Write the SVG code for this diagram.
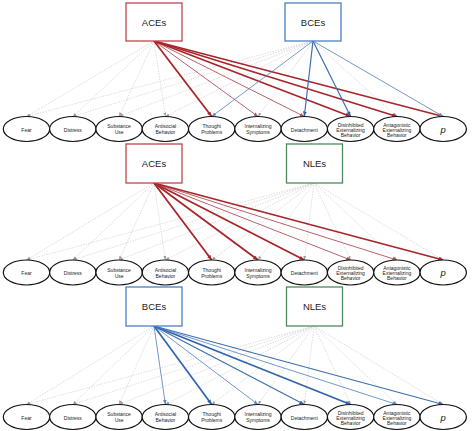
<svg xmlns="http://www.w3.org/2000/svg" width="474" height="431" viewBox="0 0 474 431">
<style>
.bg{fill:#fff}
.box{fill:#fff;stroke-width:1.3}
.red{stroke:#c0444a}.blue{stroke:#4a80c4}.green{stroke:#4e8a5c}
.bt{font-family:"Liberation Sans",Arial,sans-serif;font-size:9.5px;fill:#222;text-anchor:middle}
.el{fill:#fff;stroke:#111;stroke-width:1.2}
.lt{font-family:"Liberation Sans",Arial,sans-serif;font-size:5px;fill:#222;text-anchor:middle}
.pt{font-family:"Liberation Sans",Arial,sans-serif;font-size:9.5px;font-style:italic;fill:#111;text-anchor:middle}
.g{stroke:#cfcfcf;stroke-width:0.7;stroke-dasharray:1.5 1.2;fill:none;marker-end:url(#ag)}
.rk{stroke:#a8262b;stroke-width:1.8;fill:none;marker-end:url(#ar)}
.rn{stroke:#b0505a;stroke-width:0.9;fill:none;marker-end:url(#ar2)}
.bk{stroke:#2f64a8;stroke-width:1.7;fill:none;marker-end:url(#ab)}
.bm{stroke:#3c6fb0;stroke-width:1.2;fill:none;marker-end:url(#ab)}
.bn{stroke:#5a87c0;stroke-width:0.85;fill:none;marker-end:url(#ab2)}
</style>
<defs>
<marker id="ag" markerUnits="userSpaceOnUse" markerWidth="4" markerHeight="3" refX="4" refY="1.5" orient="auto"><path d="M0,0 L4,1.5 L0,3 z" fill="#999"/></marker>
<marker id="ar" markerUnits="userSpaceOnUse" markerWidth="5" markerHeight="4" refX="5" refY="2" orient="auto"><path d="M0,0 L5,2 L0,4 z" fill="#a8262b"/></marker>
<marker id="ar2" markerUnits="userSpaceOnUse" markerWidth="4.5" markerHeight="3.6" refX="4.5" refY="1.8" orient="auto"><path d="M0,0 L4.5,1.8 L0,3.6 z" fill="#b0505a"/></marker>
<marker id="ab" markerUnits="userSpaceOnUse" markerWidth="5" markerHeight="4" refX="5" refY="2" orient="auto"><path d="M0,0 L5,2 L0,4 z" fill="#2f64a8"/></marker>
<marker id="ab2" markerUnits="userSpaceOnUse" markerWidth="4.5" markerHeight="3.6" refX="4.5" refY="1.8" orient="auto"><path d="M0,0 L4.5,1.8 L0,3.6 z" fill="#5a87c0"/></marker>
</defs>
<rect class="bg" x="0" y="0" width="474" height="431"/>
<g id="connectors">
<!-- panel 1 -->
<line class="g" x1="154" y1="41" x2="26.5" y2="116.5"/>
<line class="g" x1="154" y1="41" x2="72.8" y2="116.5"/>
<line class="g" x1="154" y1="41" x2="119.1" y2="116.5"/>
<line class="g" x1="154" y1="41" x2="165.4" y2="116.5"/>
<line class="g" x1="313" y1="41" x2="26.5" y2="116.5"/>
<line class="g" x1="313" y1="41" x2="72.8" y2="116.5"/>
<line class="g" x1="313" y1="41" x2="119.1" y2="116.5"/>
<line class="g" x1="313" y1="41" x2="165.4" y2="116.5"/>
<line class="g" x1="313" y1="41" x2="258" y2="116.5"/>
<line class="g" x1="313" y1="41" x2="396.9" y2="116.5"/>
<line class="rn" x1="154" y1="41" x2="258" y2="116.5"/>
<line class="rn" x1="154" y1="41" x2="304.3" y2="116.5"/>
<line class="rk" x1="154" y1="41" x2="211.7" y2="116.5"/>
<line class="rk" x1="154" y1="41" x2="350.6" y2="116.5"/>
<line class="rk" x1="154" y1="41" x2="396.9" y2="116.5"/>
<line class="rk" x1="154" y1="41" x2="443.2" y2="116.5"/>
<line class="bn" x1="313" y1="41" x2="211.7" y2="116.5"/>
<line class="bn" x1="313" y1="41" x2="443.2" y2="116.5"/>
<line class="bm" x1="313" y1="41" x2="304.3" y2="116.5"/>
<line class="bm" x1="313" y1="41" x2="350.6" y2="116.5"/>
<!-- panel 2 -->
<line class="g" x1="154" y1="183" x2="26.5" y2="260"/>
<line class="g" x1="154" y1="183" x2="72.8" y2="260"/>
<line class="g" x1="154" y1="183" x2="119.1" y2="260"/>
<line class="g" x1="154" y1="183" x2="165.4" y2="260"/>
<line class="g" x1="314" y1="183" x2="26.5" y2="260"/>
<line class="g" x1="314" y1="183" x2="72.8" y2="260"/>
<line class="g" x1="314" y1="183" x2="119.1" y2="260"/>
<line class="g" x1="314" y1="183" x2="165.4" y2="260"/>
<line class="g" x1="314" y1="183" x2="211.7" y2="260"/>
<line class="g" x1="314" y1="183" x2="258" y2="260"/>
<line class="g" x1="314" y1="183" x2="304.3" y2="260"/>
<line class="g" x1="314" y1="183" x2="350.6" y2="260"/>
<line class="g" x1="314" y1="183" x2="396.9" y2="260"/>
<line class="g" x1="314" y1="183" x2="443.2" y2="260"/>
<line class="rk" x1="154" y1="183" x2="211.7" y2="260"/>
<line class="rk" x1="154" y1="183" x2="258" y2="260"/>
<line class="rk" x1="154" y1="183" x2="304.3" y2="260"/>
<line class="rn" x1="154" y1="183" x2="350.6" y2="260"/>
<line class="rn" x1="154" y1="183" x2="396.9" y2="260"/>
<line class="rk" x1="154" y1="183" x2="443.2" y2="260"/>
<!-- panel 3 -->
<line class="g" x1="154" y1="326" x2="26.5" y2="404.5"/>
<line class="g" x1="154" y1="326" x2="72.8" y2="404.5"/>
<line class="g" x1="154" y1="326" x2="119.1" y2="404.5"/>
<line class="g" x1="314" y1="326" x2="26.5" y2="404.5"/>
<line class="g" x1="314" y1="326" x2="72.8" y2="404.5"/>
<line class="g" x1="314" y1="326" x2="119.1" y2="404.5"/>
<line class="g" x1="314" y1="326" x2="165.4" y2="404.5"/>
<line class="g" x1="314" y1="326" x2="211.7" y2="404.5"/>
<line class="g" x1="314" y1="326" x2="258" y2="404.5"/>
<line class="g" x1="314" y1="326" x2="304.3" y2="404.5"/>
<line class="g" x1="314" y1="326" x2="350.6" y2="404.5"/>
<line class="g" x1="314" y1="326" x2="396.9" y2="404.5"/>
<line class="g" x1="314" y1="326" x2="443.2" y2="404.5"/>
<line class="bn" x1="154" y1="326" x2="165.4" y2="404.5"/>
<line class="bk" x1="154" y1="326" x2="211.7" y2="404.5"/>
<line class="bn" x1="154" y1="326" x2="258" y2="404.5"/>
<line class="bm" x1="154" y1="326" x2="304.3" y2="404.5"/>
<line class="bk" x1="154" y1="326" x2="350.6" y2="404.5"/>
<line class="bn" x1="154" y1="326" x2="396.9" y2="404.5"/>
<line class="bm" x1="154" y1="326" x2="443.2" y2="404.5"/>
</g>
<!-- boxes -->
<g id="p1-aces"><rect class="box red" x="126" y="3" width="56" height="38"/><text class="bt" x="154" y="25.5">ACEs</text></g>
<g id="p1-bces"><rect class="box blue" x="285" y="3" width="56" height="38"/><text class="bt" x="313" y="25.5">BCEs</text></g>
<g id="p2-aces"><rect class="box red" x="126" y="144" width="56" height="39"/><text class="bt" x="154" y="166.5">ACEs</text></g>
<g id="p2-nles"><rect class="box green" x="286.5" y="144" width="56" height="39"/><text class="bt" x="314.5" y="166.5">NLEs</text></g>
<g id="p3-bces"><rect class="box blue" x="126" y="287" width="56" height="39"/><text class="bt" x="154" y="309.5">BCEs</text></g>
<g id="p3-nles"><rect class="box green" x="286.5" y="287" width="56" height="39"/><text class="bt" x="314.5" y="309.5">NLEs</text></g>
<!-- row 1 -->
<g id="p1-fear"><ellipse class="el" cx="26.5" cy="129" rx="23.2" ry="12.5"/><text class="lt" x="26.5" y="131.8">Fear</text></g>
<g id="p1-distress"><ellipse class="el" cx="72.8" cy="129" rx="23.2" ry="12.5"/><text class="lt" x="72.8" y="131.8">Distress</text></g>
<g id="p1-substance"><ellipse class="el" cx="119.1" cy="129" rx="23.2" ry="12.5"/><text class="lt" x="119.1" y="128">Substance</text><text class="lt" x="119.1" y="134">Use</text></g>
<g id="p1-antisocial"><ellipse class="el" cx="165.4" cy="129" rx="23.2" ry="12.5"/><text class="lt" x="165.4" y="128">Antisocial</text><text class="lt" x="165.4" y="134">Behavior</text></g>
<g id="p1-thought"><ellipse class="el" cx="211.7" cy="129" rx="23.2" ry="12.5"/><text class="lt" x="211.7" y="128">Thought</text><text class="lt" x="211.7" y="134">Problems</text></g>
<g id="p1-internalizing"><ellipse class="el" cx="258" cy="129" rx="23.2" ry="12.5"/><text class="lt" x="258" y="128">Internalizing</text><text class="lt" x="258" y="134">Symptoms</text></g>
<g id="p1-detachment"><ellipse class="el" cx="304.3" cy="129" rx="23.2" ry="12.5"/><text class="lt" x="304.3" y="131.8">Detachment</text></g>
<g id="p1-disinhibited"><ellipse class="el" cx="350.6" cy="129" rx="23.2" ry="12.5"/><text class="lt" x="350.6" y="126.6">Disinhibited</text><text class="lt" x="350.6" y="131.6">Externalizing</text><text class="lt" x="350.6" y="136.6">Behavior</text></g>
<g id="p1-antagonistic"><ellipse class="el" cx="396.9" cy="129" rx="23.2" ry="12.5"/><text class="lt" x="396.9" y="126.6">Antagonistic</text><text class="lt" x="396.9" y="131.6">Externalizing</text><text class="lt" x="396.9" y="136.6">Behavior</text></g>
<g id="p1-p"><ellipse class="el" cx="443.2" cy="129" rx="23.2" ry="12.5"/><text class="pt" x="443.2" y="132.5">p</text></g>
<!-- row 2 -->
<g id="p2-fear"><ellipse class="el" cx="26.5" cy="272.5" rx="23.2" ry="12.5"/><text class="lt" x="26.5" y="275.3">Fear</text></g>
<g id="p2-distress"><ellipse class="el" cx="72.8" cy="272.5" rx="23.2" ry="12.5"/><text class="lt" x="72.8" y="275.3">Distress</text></g>
<g id="p2-substance"><ellipse class="el" cx="119.1" cy="272.5" rx="23.2" ry="12.5"/><text class="lt" x="119.1" y="271.5">Substance</text><text class="lt" x="119.1" y="277.5">Use</text></g>
<g id="p2-antisocial"><ellipse class="el" cx="165.4" cy="272.5" rx="23.2" ry="12.5"/><text class="lt" x="165.4" y="271.5">Antisocial</text><text class="lt" x="165.4" y="277.5">Behavior</text></g>
<g id="p2-thought"><ellipse class="el" cx="211.7" cy="272.5" rx="23.2" ry="12.5"/><text class="lt" x="211.7" y="271.5">Thought</text><text class="lt" x="211.7" y="277.5">Problems</text></g>
<g id="p2-internalizing"><ellipse class="el" cx="258" cy="272.5" rx="23.2" ry="12.5"/><text class="lt" x="258" y="271.5">Internalizing</text><text class="lt" x="258" y="277.5">Symptoms</text></g>
<g id="p2-detachment"><ellipse class="el" cx="304.3" cy="272.5" rx="23.2" ry="12.5"/><text class="lt" x="304.3" y="275.3">Detachment</text></g>
<g id="p2-disinhibited"><ellipse class="el" cx="350.6" cy="272.5" rx="23.2" ry="12.5"/><text class="lt" x="350.6" y="270.1">Disinhibited</text><text class="lt" x="350.6" y="275.1">Externalizing</text><text class="lt" x="350.6" y="280.1">Behavior</text></g>
<g id="p2-antagonistic"><ellipse class="el" cx="396.9" cy="272.5" rx="23.2" ry="12.5"/><text class="lt" x="396.9" y="270.1">Antagonistic</text><text class="lt" x="396.9" y="275.1">Externalizing</text><text class="lt" x="396.9" y="280.1">Behavior</text></g>
<g id="p2-p"><ellipse class="el" cx="443.2" cy="272.5" rx="23.2" ry="12.5"/><text class="pt" x="443.2" y="276">p</text></g>
<!-- row 3 -->
<g id="p3-fear"><ellipse class="el" cx="26.5" cy="417" rx="23.2" ry="12.5"/><text class="lt" x="26.5" y="419.8">Fear</text></g>
<g id="p3-distress"><ellipse class="el" cx="72.8" cy="417" rx="23.2" ry="12.5"/><text class="lt" x="72.8" y="419.8">Distress</text></g>
<g id="p3-substance"><ellipse class="el" cx="119.1" cy="417" rx="23.2" ry="12.5"/><text class="lt" x="119.1" y="416">Substance</text><text class="lt" x="119.1" y="422">Use</text></g>
<g id="p3-antisocial"><ellipse class="el" cx="165.4" cy="417" rx="23.2" ry="12.5"/><text class="lt" x="165.4" y="416">Antisocial</text><text class="lt" x="165.4" y="422">Behavior</text></g>
<g id="p3-thought"><ellipse class="el" cx="211.7" cy="417" rx="23.2" ry="12.5"/><text class="lt" x="211.7" y="416">Thought</text><text class="lt" x="211.7" y="422">Problems</text></g>
<g id="p3-internalizing"><ellipse class="el" cx="258" cy="417" rx="23.2" ry="12.5"/><text class="lt" x="258" y="416">Internalizing</text><text class="lt" x="258" y="422">Symptoms</text></g>
<g id="p3-detachment"><ellipse class="el" cx="304.3" cy="417" rx="23.2" ry="12.5"/><text class="lt" x="304.3" y="419.8">Detachment</text></g>
<g id="p3-disinhibited"><ellipse class="el" cx="350.6" cy="417" rx="23.2" ry="12.5"/><text class="lt" x="350.6" y="414.6">Disinhibited</text><text class="lt" x="350.6" y="419.6">Externalizing</text><text class="lt" x="350.6" y="424.6">Behavior</text></g>
<g id="p3-antagonistic"><ellipse class="el" cx="396.9" cy="417" rx="23.2" ry="12.5"/><text class="lt" x="396.9" y="414.6">Antagonistic</text><text class="lt" x="396.9" y="419.6">Externalizing</text><text class="lt" x="396.9" y="424.6">Behavior</text></g>
<g id="p3-p"><ellipse class="el" cx="443.2" cy="417" rx="23.2" ry="12.5"/><text class="pt" x="443.2" y="420.5">p</text></g>
</svg>
